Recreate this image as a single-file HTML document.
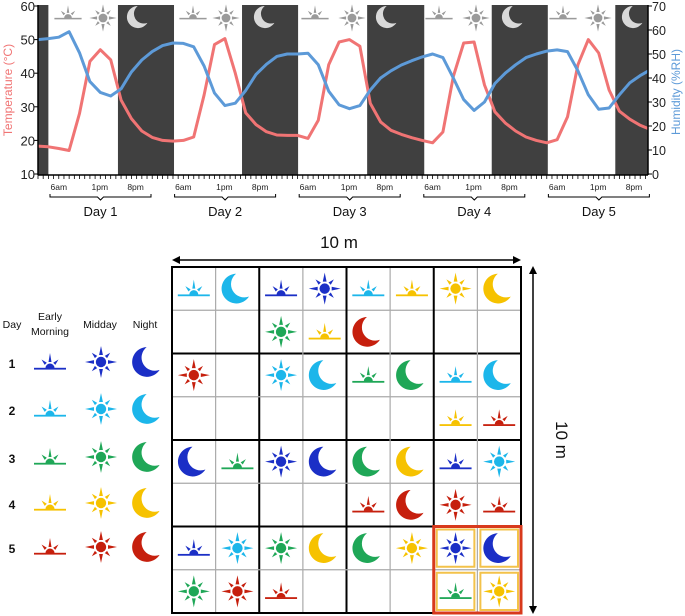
<!DOCTYPE html>
<html><head><meta charset="utf-8"><style>
html,body{margin:0;padding:0;background:#fff;}
svg{display:block;font-family:"Liberation Sans",sans-serif;}
</style></head><body>
<svg id="root" width="685" height="616" viewBox="0 0 685 616" xmlns="http://www.w3.org/2000/svg">
<defs><clipPath id="plotclip"><rect x="38" y="5" width="610" height="170"/></clipPath></defs>
<g id="chart"></g>
<g id="grid"></g>
<g id="legend"></g>
</svg>
<script>
// ---------- chart data ----------
const timeHours = [0,2,4,6,8,10,12,14,16,18,20,22,24,26,28,30,32,34,36,38,40,42,44,46,48,50,52,54,56,58,60,62,64,66,68,70,72,74,76,78,80,82,84,86,88,90,92,94,96,98,100,102,104,106,108,110,112,114,116,118];
const temperatureValues = [18.3,18.1,17.6,17,28,43.5,47,44,32,26.5,22.8,20.9,20,19.8,20,21,33.5,48.5,50.3,40,28.2,24.7,22.6,21.6,21.5,21.5,20.6,26,42.5,49.3,50,48,31,25.5,23,21.8,20.8,20,19.3,22.5,39,49,49.3,36.5,28.5,25.2,22.8,21,20,19.3,20.2,27,42.5,50,46,35,28.7,26.3,24.5,23.2];
const humidityValues = [56,56.4,57,59.3,50.5,38.5,34,32.5,35.5,42.5,47.5,51,53.5,54.6,54.4,53,45,33.7,28.5,29.5,34.8,41.5,45.7,49,50,50,50.3,45.5,34.5,28.8,27.2,28.5,35,40,43,45.4,47.2,48.8,50,48.5,40,31,26.5,30,37.7,42,45.5,48.5,50,51.2,51.7,51,43,33,27,27.5,33,38,41,43.5];
const nightStarts = [-1,15.4,39.3,63.4,87.4,111.2];
const nightEnds = [2,26.2,50.1,74.4,98.2,118];
const tempTicks = [10,20,30,40,50,60];
const humTicks = [0,10,20,30,40,50,60,70];
const dayLabels = ["Day 1","Day 2","Day 3","Day 4","Day 5"];
const hourLabels = ["6am","1pm","8pm"];
const hourLabelOffsets = [4,11.9,18.8];
const dayStartHours = [0,24,48,72,96];

const NS="http://www.w3.org/2000/svg";
function mk(tag,attrs,parent){const e=document.createElementNS(NS,tag);for(const k in attrs)e.setAttribute(k,attrs[k]);if(parent)parent.appendChild(e);return e;}
const X0=38,X1=648,Y0=174,Y1=6;
const xH=h=>X0+h*(X1-X0)/117.5;
const yT=v=>Y0-(v-10)*(Y0-Y1)/50;
const yR=v=>Y0-v*(Y0-Y1)/70;
const chart=document.getElementById('chart');

nightStarts.forEach((s,i)=>{
  const a=Math.max(0,s),b=Math.min(117.5,nightEnds[i]);
  const r=mk('rect',{x:xH(a),y:5,width:xH(b)-xH(a),height:170,fill:'#404040'},chart);
  
  
});

function sunIcon(parent,cx,cy,s,color){
  const g=mk('g',{transform:`translate(${cx},${cy}) scale(${s})`},parent);
  for(let k=0;k<8;k++){
    const a=k*Math.PI/4, L=(k%2==0)?16:13, r0=7, w=(k%2==0)?1.9:1.6;
    const c=Math.cos(a),sn=Math.sin(a);
    const pts=[[r0*c-w*sn,r0*sn+w*c],[L*c,L*sn],[r0*c+w*sn,r0*sn-w*c]];
    mk('polygon',{points:pts.map(p=>p.join(',')).join(' '),fill:color},g);
  }
  mk('circle',{cx:0,cy:0,r:5.2,fill:color},g);
  return g;
}
function sunriseIcon(parent,cx,cy,s,color){
  const g=mk('g',{transform:`translate(${cx},${cy}) scale(${s})`},parent);
  mk('path',{d:'M-4.5,0 A4.5,4.5 0 0 1 4.5,0 Z',fill:color},g);
  mk('rect',{x:-16,y:-0.2,width:32,height:1.8,fill:color},g);
  [-90,-45,-135].forEach(d=>{const a=d*Math.PI/180,c=Math.cos(a),sn=Math.sin(a),r0=6,L=(d==-90?15:12),w=1.5;
    const pts=[[r0*c-w*sn,r0*sn+w*c],[L*c,L*sn],[r0*c+w*sn,r0*sn-w*c]];
    mk('polygon',{points:pts.map(p=>p.join(',')).join(' '),fill:color},g);});
  return g;
}
const MOON_D='M11.45,7.13 A13.5,13.5 0 1 1 -0.33,-13.49 A12,12 0 0 0 11.45,7.13 Z';
function moonIcon(parent,cx,cy,s,color){
  const g=mk('g',{transform:`translate(${cx},${cy}) scale(${s})`},parent);
  mk('path',{d:MOON_D,fill:color},g);
  return g;
}

const iconDays=[[68,103,138],[193,226,265],[315,352,387],[439,476,513],[563,598,633]];
iconDays.forEach(d=>{
  const a=sunriseIcon(chart,d[0],18,0.85,'#9a9a9a');
  
  
  const b=sunIcon(chart,d[1],18,0.85,'#9a9a9a');
  
  
  const c=moonIcon(chart,d[2],17,0.82,'#d9d9d9');
  
  
});

function series(vals,yf,color,name){
  const pts=timeHours.map((h,i)=>xH(h).toFixed(1)+','+yf(vals[i]).toFixed(1)).join(' ');
  const p=mk('polyline',{points:pts,fill:'none',stroke:color,'stroke-width':3,'stroke-linejoin':'round','clip-path':'url(#plotclip)'},chart);
  
  
}
series(temperatureValues,yT,'#f07474','temperature-line');
series(humidityValues,yR,'#5d9ad8','humidity-line');

mk('line',{x1:X0,y1:5,x2:X0,y2:175,stroke:'#000','stroke-width':1.5},chart);
mk('line',{x1:X1,y1:5,x2:X1,y2:175,stroke:'#000','stroke-width':1.5},chart);
mk('line',{x1:X0,y1:175,x2:X1,y2:175,stroke:'#000','stroke-width':1.5},chart);
tempTicks.forEach(v=>{
  mk('line',{x1:X0-4,y1:yT(v),x2:X0,y2:yT(v),stroke:'#000'},chart);
  const t=mk('text',{x:X0-3,y:yT(v)+5,'text-anchor':'end','font-size':13,fill:'#222'},chart);
  t.textContent=v;
  
  
});
humTicks.forEach(v=>{
  mk('line',{x1:X1,y1:yR(v),x2:X1+4,y2:yR(v),stroke:'#000'},chart);
  const t=mk('text',{x:X1+4,y:yR(v)+5,'font-size':12.5,fill:'#222'},chart);
  t.textContent=v;
  
  
});
for(let h=0;h<=117;h++){mk('line',{x1:xH(h),y1:175,x2:xH(h),y2:179,stroke:'#000','stroke-width':0.8},chart);}
const yl=mk('text',{x:0,y:0,transform:'translate(12,90) rotate(-90)','text-anchor':'middle','font-size':12,fill:'#f07474'},chart);
yl.textContent='Temperature (°C)';


const yr=mk('text',{x:0,y:0,transform:'translate(680,92) rotate(-90)','text-anchor':'middle','font-size':12,fill:'#5d9ad8'},chart);
yr.textContent='Humidity (%RH)';



dayStartHours.forEach((d0,i)=>{
  hourLabelOffsets.forEach((o,j)=>{
    const t=mk('text',{x:xH(d0+o),y:190,'text-anchor':'middle','font-size':8.5,fill:'#222'},chart);
    t.textContent=hourLabels[j];
    
    
  });
  const a=xH(d0)+12,b=xH(d0)+113,m=(a+b)/2;
  mk('path',{d:`M${a},194 L${a},197 L${m-3},197 L${m},200 L${m+3},197 L${b},197 L${b},194`,fill:'none',stroke:'#000','stroke-width':1},chart);
  const t=mk('text',{x:m,y:216,'text-anchor':'middle','font-size':13,fill:'#111'},chart);
  t.textContent=dayLabels[i];
  
  
});

// ---------- grid ----------
const C={1:'#1b2fc6',2:'#1cb6ea',3:'#1fa757',4:'#f6c200',5:'#c61f0d'};
const cells=[
 ['s2','m2','s1','S1','s2','s4','S4','m4'],
 ['','','S3','s4','m5','','',''],
 ['S5','','S2','m2','s3','m3','s2','m2'],
 ['','','','','','','s4','s5'],
 ['m1','s3','S1','m1','m3','m4','s1','S2'],
 ['','','','','s5','m5','S5','s5'],
 ['s1','S2','S3','m4','m3','S4','S1','m1'],
 ['S3','S5','s5','','','','s3','S4']];
const grid=document.getElementById('grid');
const GX=172,GY=267,CW=349/8,CH=346/8;
for(let i=1;i<8;i++){
  const th=i%2==0;
  mk('line',{x1:GX+i*CW,y1:GY,x2:GX+i*CW,y2:GY+8*CH,stroke:th?'#000':'#aaa','stroke-width':th?2:1.2},grid);
  mk('line',{x1:GX,y1:GY+i*CH,x2:GX+8*CW,y2:GY+i*CH,stroke:th?'#000':'#aaa','stroke-width':th?2:1.2},grid);
}
mk('rect',{x:GX,y:GY,width:8*CW,height:8*CH,fill:'none',stroke:'#000','stroke-width':2},grid);
for(let r=6;r<8;r++)for(let c=6;c<8;c++){
  mk('rect',{x:GX+c*CW+3,y:GY+r*CH+3,width:CW-6,height:CH-6,fill:'none',stroke:'#f3c24a','stroke-width':2},grid);
}
const hl=mk('rect',{x:GX+6*CW,y:GY+6*CH,width:2*CW,height:2*CH,fill:'none',stroke:'#d8391c','stroke-width':3},grid);


cells.forEach((row,r)=>row.forEach((v,c)=>{
  if(!v)return;
  const cx=GX+c*CW+CW/2,cy=GY+r*CH+CH/2,col=C[v[1]];
  let g;
  if(v[0]=='S')g=sunIcon(grid,cx,cy,1.0,col);
  else if(v[0]=='s')g=sunriseIcon(grid,cx,cy+6,1.0,col);
  else g=moonIcon(grid,cx-1,cy,1.1,col);
  
  
}));
mk('line',{x1:GX+6,y1:260,x2:GX+8*CW-6,y2:260,stroke:'#000','stroke-width':1.5},grid);
mk('polygon',{points:`${GX},260 ${GX+8},256 ${GX+8},264`,fill:'#000'},grid);
mk('polygon',{points:`${GX+8*CW},260 ${GX+8*CW-8},256 ${GX+8*CW-8},264`,fill:'#000'},grid);
const tm=mk('text',{x:339,y:248,'text-anchor':'middle','font-size':17,fill:'#111'},grid);
tm.textContent='10 m';


mk('line',{x1:533,y1:273,x2:533,y2:607,stroke:'#000','stroke-width':1.5},grid);
mk('polygon',{points:`533,266 529,274 537,274`,fill:'#000'},grid);
mk('polygon',{points:`533,614 529,606 537,606`,fill:'#000'},grid);
const tv=mk('text',{x:0,y:0,transform:'translate(556,440) rotate(90)','text-anchor':'middle','font-size':17,fill:'#111'},grid);
tv.textContent='10 m';



// ---------- legend ----------
const lg=document.getElementById('legend');
function lt(x,y,s,w,fs){const t=mk('text',{x:x,y:y,'text-anchor':'middle','font-size':fs||10.5,fill:'#111','font-weight':w||'normal'},lg);t.textContent=s;
  
  }
lt(12,328,'Day');lt(50,320,'Early');lt(50,335,'Morning');lt(100,328,'Midday');lt(145,328,'Night');
const rowY=[363,410,458,504,548];
rowY.forEach((y,i)=>{
  lt(12,y+5,String(i+1),'bold',12);
  const col=C[i+1];
  const a=sunriseIcon(lg,50,y+5,1.0,col);
  
  
  const b=sunIcon(lg,101,y-1,1.0,col);
  
  
  const c=moonIcon(lg,147,y-1,1.1,col);
  
  
});
</script>
</body></html>
